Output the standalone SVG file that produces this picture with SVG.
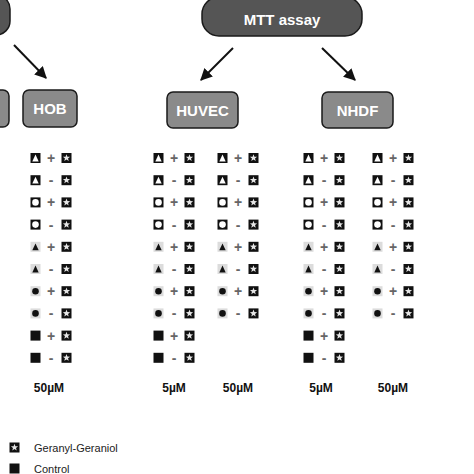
<svg xmlns="http://www.w3.org/2000/svg" xmlns:xlink="http://www.w3.org/1999/xlink" width="474" height="474" viewBox="0 0 474 474">
<style>
.dark{fill:#555;stroke:#1a1a1a;stroke-width:1.5}
.mid{fill:#8a8a8a;stroke:#1a1a1a;stroke-width:1.5}
.nt{font-family:"Liberation Sans",Arial,sans-serif;font-weight:bold;font-size:15px;fill:#fff;text-anchor:middle}
.sg{font-family:"Liberation Sans",Arial,sans-serif;font-weight:bold;font-size:14px;fill:#666;text-anchor:middle}
.lb{font-family:"Liberation Sans",Arial,sans-serif;font-weight:bold;font-size:12px;fill:#111;text-anchor:middle}
.lg{font-family:"Liberation Sans",Arial,sans-serif;font-size:11px;fill:#222}
.ar{stroke:#111;stroke-width:2;fill:none}
</style>
<defs>
<marker id="ah" viewBox="0 0 10 10" refX="9" refY="5" markerWidth="6" markerHeight="6" orient="auto" markerUnits="strokeWidth">
<path d="M0,0 L10,5 L0,10 z" fill="#111"/>
</marker>
<polygon id="star" points="0,-3.8 0.94,-1.29 3.61,-1.17 1.52,0.49 2.23,3.07 0,1.6 -2.23,3.07 -1.52,0.49 -3.61,-1.17 -0.94,-1.29" fill="#e6e6e6"/>
<g id="st"><rect x="-5" y="-5" width="10" height="10" fill="#111"/><use xlink:href="#star"/></g>
<g id="tw"><rect x="-5" y="-5" width="10" height="10" fill="#111"/><polygon points="0,-3.4 3.2,3.4 -3.2,3.4" fill="#fff"/></g>
<g id="cw"><rect x="-5" y="-5" width="10" height="10" fill="#111"/><circle r="3.3" fill="#fff"/></g>
<g id="tb"><rect x="-5" y="-5" width="10" height="10" fill="#dcdcdc"/><polygon points="0,-3.4 3.2,3.4 -3.2,3.4" fill="#111"/></g>
<g id="cb"><rect x="-5" y="-5" width="10" height="10" fill="#dcdcdc"/><circle r="3.3" fill="#111"/></g>
<g id="sq"><rect x="-5" y="-5" width="10" height="10" fill="#111"/></g>
<g id="r1"><use xlink:href="#tw"/><text class="sg" x="15.5" y="5">+</text><use xlink:href="#st" x="31"/></g>
<g id="r2"><use xlink:href="#tw"/><text class="sg" x="15.5" y="5">-</text><use xlink:href="#st" x="31"/></g>
<g id="r3"><use xlink:href="#cw"/><text class="sg" x="15.5" y="5">+</text><use xlink:href="#st" x="31"/></g>
<g id="r4"><use xlink:href="#cw"/><text class="sg" x="15.5" y="5">-</text><use xlink:href="#st" x="31"/></g>
<g id="r5"><use xlink:href="#tb"/><text class="sg" x="15.5" y="5">+</text><use xlink:href="#st" x="31"/></g>
<g id="r6"><use xlink:href="#tb"/><text class="sg" x="15.5" y="5">-</text><use xlink:href="#st" x="31"/></g>
<g id="r7"><use xlink:href="#cb"/><text class="sg" x="15.5" y="5">+</text><use xlink:href="#st" x="31"/></g>
<g id="r8"><use xlink:href="#cb"/><text class="sg" x="15.5" y="5">-</text><use xlink:href="#st" x="31"/></g>
<g id="r9"><use xlink:href="#sq"/><text class="sg" x="15.5" y="5">+</text><use xlink:href="#st" x="31"/></g>
<g id="r10"><use xlink:href="#sq"/><text class="sg" x="15.5" y="5">-</text><use xlink:href="#st" x="31"/></g>
<g id="col8">
<use xlink:href="#r1" y="158"/><use xlink:href="#r2" y="180.2"/><use xlink:href="#r3" y="202.4"/><use xlink:href="#r4" y="224.6"/>
<use xlink:href="#r5" y="246.8"/><use xlink:href="#r6" y="269"/><use xlink:href="#r7" y="291.2"/><use xlink:href="#r8" y="313.4"/>
</g>
<g id="col10"><use xlink:href="#col8"/><use xlink:href="#r9" y="335.6"/><use xlink:href="#r10" y="357.8"/></g>
</defs>

<g id="connectors">
<line class="ar" x1="14" y1="45" x2="46" y2="78" marker-end="url(#ah)"/>
<line class="ar" x1="233" y1="48" x2="201" y2="80" marker-end="url(#ah)"/>
<line class="ar" x1="322" y1="48" x2="355" y2="80" marker-end="url(#ah)"/>
</g>

<g id="node-topleft"><rect class="dark" x="-30" y="-5" width="40" height="40" rx="14"/></g>
<g id="node-mtt"><rect class="dark" x="202" y="-3" width="160" height="39" rx="17"/><text class="nt" x="282" y="25">MTT assay</text></g>
<g id="node-left"><rect class="mid" x="-20" y="90" width="29" height="37" rx="6"/></g>
<g id="node-hob"><rect class="mid" x="23" y="90" width="54" height="37" rx="6"/><text class="nt" x="50" y="114">HOB</text></g>
<g id="node-huvec"><rect class="mid" x="167" y="92" width="71" height="36" rx="6"/><text class="nt" x="202.5" y="115.5">HUVEC</text></g>
<g id="node-nhdf"><rect class="mid" x="322" y="92" width="71" height="36" rx="6"/><text class="nt" x="357.5" y="115.5">NHDF</text></g>

<g id="hob-50"><use xlink:href="#col10" x="35.5"/><text class="lb" x="49" y="391.5">50µM</text></g>
<g id="huvec-5"><use xlink:href="#col10" x="158.5"/><text class="lb" x="174" y="391.5">5µM</text></g>
<g id="huvec-50"><use xlink:href="#col8" x="222.5"/><text class="lb" x="238" y="391.5">50µM</text></g>
<g id="nhdf-5"><use xlink:href="#col10" x="308.5"/><text class="lb" x="321" y="391.5">5µM</text></g>
<g id="nhdf-50"><use xlink:href="#col8" x="377.5"/><text class="lb" x="393" y="391.5">50µM</text></g>

<g id="legend">
<use xlink:href="#st" x="14.5" y="447.5"/>
<text class="lg" x="34" y="451.5">Geranyl-Geraniol</text>
<use xlink:href="#sq" x="14.5" y="468.5"/>
<text class="lg" x="34" y="472.5">Control</text>
</g>
</svg>
